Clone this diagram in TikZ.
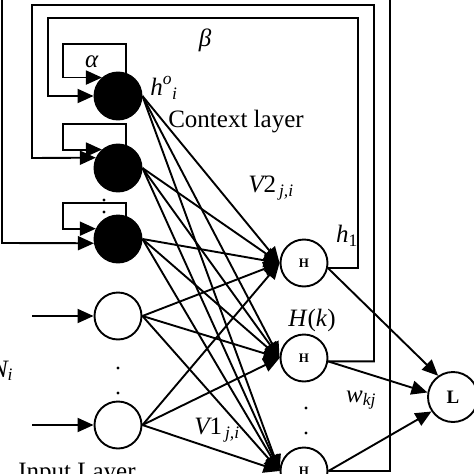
\documentclass[tikz,border=0pt]{standalone}
\usepackage{amsmath}
\usepackage{fontspec}
\setmainfont{Liberation Serif}
\usetikzlibrary{arrows.meta}

\begin{document}
\begin{tikzpicture}[x=1pt,y=-1pt,line width=1.9pt,
  ctx/.style={circle,draw,fill=black,minimum size=47pt,inner sep=0pt},
  inp/.style={circle,draw,fill=white,minimum size=47pt,inner sep=0pt},
  hid/.style={circle,draw,fill=white,minimum size=47pt,inner sep=0pt,font=\fontsize{13}{13}\selectfont\bfseries},
  outp/.style={circle,draw,fill=white,minimum size=50pt,inner sep=0pt,font=\fontsize{19}{19}\selectfont\bfseries},
  lbl/.style={font=\fontsize{25}{29}\selectfont,inner sep=0pt},
  arr/.style={-{Triangle[length=16pt,width=14pt]}}]
\useasboundingbox (0,0) rectangle (474,474);
% context, input, hidden and output units
\node[ctx] (c1) at (118,96) {};
\node[ctx] (c2) at (118,168) {};
\node[ctx] (c3) at (118,239) {};
\node[inp] (i1) at (118,316) {};
\node[inp] (i2) at (118,425) {};
\node[hid] (h1) at (304,263) {H};
\node[hid] (h2) at (304,358) {H};
\node[hid] (h3) at (304,471) {H};
\node[outp] (L) at (453,397) {L};
% free ends of the inputs
\coordinate (u1) at (32,316);
\coordinate (u2) at (32,425);
\draw[arr] (u1) -- (i1.west);
\draw[arr] (u2) -- (i2.west);
% weights V1, V2
\foreach \s in {c1,c2,c3,i1,i2}
{
\foreach \t in {h1,h2,h3}
{
\draw[arr] (\s.east) -- (\t.west);
}
}
% weights w
\draw[arr] (h1.-12) -- (L.125);
\draw[arr] (h2.-8) -- (L.170);
\draw[arr] (h3.east) -- (L.214);
% self loops alpha
\foreach \c/\top/\ang in {c1/44/131,c2/124/131,c3/203/155}
{
\draw[arr] (\c.70) |- (63,\top) |- (\c.\ang);
}
% feedback beta
\draw[arr] (h1.-12) -| (358,18) -| (48,96) -- (c1.west);
\draw[arr] (h2.-8) -| (374,5) -| (32,158) -- (c2.155);
\draw[arr] (h3.east) -| (390,-20) -| (2,243) -- (c3.190);
% dots
\foreach \d in {200,212}
{
\fill (104,\d) circle (1.7);
}
\foreach \d in {368,393}
{
\fill (118,\d) circle (1.7);
}
\foreach \d in {408,433}
{
\fill (306,\d) circle (1.7);
}
% labels
\node[lbl] (alpha) at (92,62) {\textit{α}};
\node[lbl] (beta) at (205,40) {\textit{β}};
\node[lbl] (ho) at (164,88) {$\textit{h}^{\textit{o}}{}_{\textit{i}}$};
\node[lbl] (ctxname) at (236,122) {Context layer};
\node[lbl] (v2) at (271,188) {$\textit{V}\textrm{2}_{\,\textit{j,i}}$};
\node[lbl] (hone) at (347,236) {$\textit{h}_{\textrm{1}}$};
\node[lbl] (hk) at (312,320) {\textit{H}(\textit{k})};
\node[lbl] (wkj) at (361,400) {$\textit{w}_{\textit{kj}}$};
\node[lbl] (v1) at (217,430) {$\textit{V}\textrm{1}_{\,\textit{j,i}}$};
\node[lbl,anchor=base] (inlayer) at (77,479) {Input Layer};
\node[lbl,anchor=base east] (ni) at (14,377) {$\textit{N}_{\textit{i}}$};
\end{tikzpicture}
\end{document}
